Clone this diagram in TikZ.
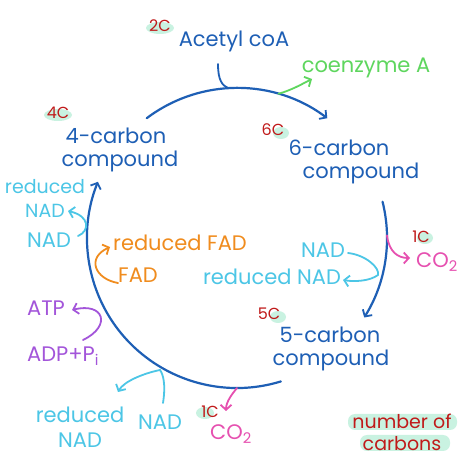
\documentclass[tikz,border=0pt]{standalone}
\usepackage{fontspec}
\setmainfont{Poppins}
\usetikzlibrary{arrows.meta,calc}
\definecolor{cblue}{HTML}{1E5FB5}
\definecolor{ccyan}{HTML}{4CC6E6}
\definecolor{cgreen}{HTML}{5ED65E}
\definecolor{corange}{HTML}{F08C1E}
\definecolor{cpink}{HTML}{E650B0}
\definecolor{cpurple}{HTML}{A355DA}
\definecolor{cred}{HTML}{C01A1A}
\definecolor{cmint}{HTML}{C9F2E1}
\tikzset{
  lbl/.style={inner sep=0pt, font=\fontsize{21}{25}\selectfont},
  cnum/.style={inner sep=0pt, text=cred, font=\fontsize{16}{16}\selectfont},
  hl/.style={fill=cmint},
  cyc/.style={draw=cblue, line width=2.2pt, line cap=round},
  side/.style={line width=1.8pt, line cap=round},
  tip/.style={-{Straight Barb[length=5pt,width=11pt,line width=1.8pt]}},
}
\begin{document}
\begin{tikzpicture}[x=1pt,y=1pt]
\useasboundingbox (0,0) rectangle (474,474);
\fill[white] (0,0) rectangle (474,474);
\coordinate (c) at (237,236);
% highlights
\fill[hl] (160,446) ellipse (14pt and 6pt);
\fill[hl] (58,359) ellipse (14pt and 6pt);
\fill[hl] (281,341) ellipse (8pt and 6pt);
\fill[hl] (278,157) ellipse (8pt and 6pt);
\fill[hl] (425,236) ellipse (8pt and 6pt);
\fill[hl] (205,61) ellipse (9pt and 6pt);
\fill[hl, rounded corners=7pt] (348,44) rectangle (457,60);
\fill[hl, rounded corners=7pt] (360,23) rectangle (450,39);
% texts
\node[cnum] (n2c) at (160,448) {2C};
\node[lbl, text=cblue] (acetyl) at (234,433) {Acetyl coA};
\node[lbl, text=cgreen] (coa) at (366,406) {coenzyme A};
\node[cnum] (n4c) at (58,361) {4C};
\node[lbl, text=cblue] (c4a) at (116,338) {4-carbon};
\node[lbl, text=cblue] (c4b) at (120,313) {compound};
\node[cnum] (n6c) at (273,344) {6C};
\node[lbl, text=cblue] (c6a) at (339,326) {6-carbon};
\node[lbl, text=cblue] (c6b) at (361,301) {compound};
\node[cnum] (n5c) at (269,160) {5C};
\node[lbl, text=cblue] (c5a) at (330,139) {5-carbon};
\node[lbl, text=cblue] (c5b) at (331,114) {compound};
\node[lbl, text=ccyan, align=center, font=\fontsize{19}{24}\selectfont] (rnadL) at (45,276) {reduced\\NAD};
\node[lbl, text=ccyan] (nadL) at (49,234) {NAD};
\node[lbl, text=corange] (rfad) at (180,231) {reduced FAD};
\node[lbl, text=corange] (fad) at (138,199) {FAD};
\node[lbl, text=ccyan] (nadR) at (323,224) {NAD};
\node[lbl, text=ccyan] (rnadR) at (272,197) {reduced NAD};
\node[cnum] (n1cR) at (421,237) {1C};
\node[lbl, text=cpink] (co2R) at (437,212) {CO\textsubscript{2}};
\node[lbl, text=cpurple] (atp) at (46,166) {ATP};
\node[lbl, text=cpurple] (adp) at (63,118) {ADP+P\textsubscript{i}};
\node[lbl, text=ccyan, align=center] (rnadB) at (80,47) {reduced\\NAD};
\node[lbl, text=ccyan] (nadB) at (160,52) {NAD};
\node[cnum] (n1cB) at (210,62) {1C};
\node[lbl, text=cpink] (co2B) at (231,40) {CO\textsubscript{2}};
\node[lbl, text=cred, align=center, font=\fontsize{19}{22}\selectfont] (key) at (402,42) {number of\\carbons};
% cycle arcs
\coordinate (a1) at ($(c)+(127:150)$);
\draw[cyc, tip] (a1) arc[start angle=127, end angle=53, radius=150];
\coordinate (a2) at ($(c)+(14:150)$);
\draw[cyc, tip] (a2) arc[start angle=14, end angle=-32, radius=150];
\coordinate (a3) at ($(c)+(-73:150)$);
\draw[cyc, tip] (a3) arc[start angle=-73, end angle=-202, radius=150];
% side arrows
\coordinate (pAc) at ($(c)+(93:150)$);
\draw[side, cblue] (218,410) .. controls (218,394) and (222,388) .. (pAc);
\coordinate (pCoA) at ($(c)+(74:150)$);
\draw[side, cgreen, tip] (pCoA) .. controls (292,384) and (302,390) .. (312,395);
\draw[side, ccyan, tip] (78,238) .. controls (90,243) and (90,258) .. (68,263);
\draw[side, corange, tip] (118,191) .. controls (95,195) and (86,216) .. (110,227);
\draw[side, ccyan, tip] (348,221) .. controls (366,219) and (380,206) .. (378,199) .. controls (370,193) and (355,192) .. (343,194);
\coordinate (pCo2R) at ($(c)+(1:150)$);
\draw[side, cpink, tip] (pCo2R) .. controls (389,222) and (398,216) .. (410,216);
\draw[side, cpurple, tip] (83,134) .. controls (112,148) and (104,172) .. (72,164);
\draw[side, ccyan, tip] (163,71) .. controls (166,90) and (163,100) .. (160,104) .. controls (145,101) and (124,93) .. (118,82);
\coordinate (pCo2B) at ($(c)+(-90:150)$);
\draw[side, cpink, tip] (pCo2B) .. controls (232,80) and (226,72) .. (226,63);
\end{tikzpicture}
\end{document}
